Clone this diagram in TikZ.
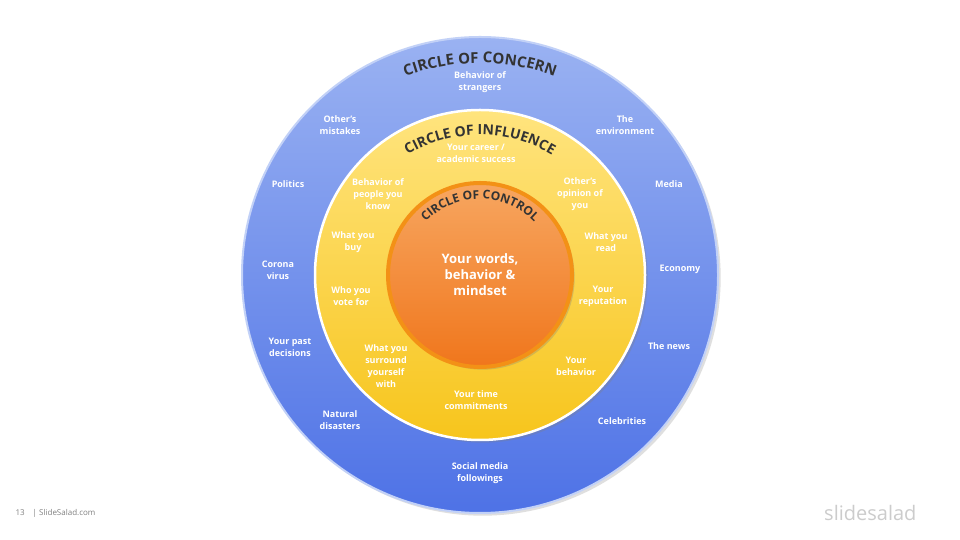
\documentclass[tikz,border=0pt]{standalone}
\usepackage{fontspec}
\setmainfont{Open Sans}
\usetikzlibrary{decorations.text,shadows}
\definecolor{bluedark}{HTML}{4E72E6}
\definecolor{bluelight}{HTML}{9AB2F2}
\definecolor{yel1}{HTML}{FFE47E}
\definecolor{yel2}{HTML}{F7C51C}
\definecolor{or1}{HTML}{F7A660}
\definecolor{or2}{HTML}{F0761C}
\definecolor{titlec}{HTML}{333333}
\tikzset{lbl/.style={text=white,align=center,font=\bfseries\fontsize{9}{12}\selectfont}}
\begin{document}
\begin{tikzpicture}[x=1pt,y=1pt]
\useasboundingbox[fill=white] (0,0) rectangle (960,540);
\coordinate (c) at (480,265);
\shade[top color=bluelight,bottom color=bluedark,draw=bluelight!60!white,line width=2pt,drop shadow={opacity=0.25}] (c) circle (238);
\shade[top color=yel1,bottom color=yel2,draw=white,line width=2.5pt,drop shadow={opacity=0.3}] (c) circle (165);
\shade[top color=or1,bottom color=or2,draw=or2!80!yellow,line width=4pt,drop shadow={opacity=0.3}] (c) circle (92);
\path[decorate,decoration={text along path,text align=center,text={|\bfseries\fontsize{15}{15}\selectfont\color{titlec}|CIRCLE OF CONCERN}}] (c) ++(130:212) arc (130:50:212);
\path[decorate,decoration={text along path,text align=center,text={|\bfseries\fontsize{14}{14}\selectfont\color{titlec}|CIRCLE OF INFLUENCE}}] (c) ++(150:140) arc (150:30:140);
\path[decorate,decoration={text along path,text align=center,text={|\bfseries\fontsize{12}{12}\selectfont\color{titlec}|CIRCLE OF CONTROL}}] (c) ++(165:76) arc (165:15:76);
\node[lbl] (a1) at (480,458) {Behavior of\\strangers};
\node[lbl] (a2) at (340,415) {Other's\\mistakes};
\node[lbl] (a3) at (625,415) {The\\environment};
\node[lbl] (a4) at (288,356) {Politics};
\node[lbl] (a5) at (669,356) {Media};
\node[lbl] (a6) at (278,270) {Corona\\virus};
\node[lbl] (a7) at (680,271) {Economy};
\node[lbl] (a8) at (290,193) {Your past\\decisions};
\node[lbl] (a9) at (669,194) {The news};
\node[lbl] (a10) at (340,120) {Natural\\disasters};
\node[lbl] (a11) at (622,119) {Celebrities};
\node[lbl] (a12) at (480,67) {Social media\\followings};
\node[lbl] (b1) at (476,387) {Your career /\\academic success};
\node[lbl] (b2) at (378,346) {Behavior of\\people you\\know};
\node[lbl] (b3) at (580,346) {Other's\\opinion of\\you};
\node[lbl] (b4) at (353,298) {What you\\buy};
\node[lbl] (b5) at (606,298) {What you\\read};
\node[lbl] (b6) at (351,244) {Who you\\vote for};
\node[lbl] (b7) at (603,244) {Your\\reputation};
\node[lbl] (b8) at (386,174) {What you\\surround\\yourself\\with};
\node[lbl] (b9) at (576,174) {Your\\behavior};
\node[lbl] (b10) at (476,140) {Your time\\commitments};
\node[text=white,align=center,font=\bfseries\fontsize{13}{16}\selectfont] (m) at (480,265) {Your words,\\behavior \&\\mindset};
\node[anchor=west,text=gray,font=\fontsize{8}{10}\selectfont] (f1) at (12,27) {13\quad | SlideSalad.com};
\node[anchor=east,text=black!20,font=\fontsize{20}{22}\selectfont] (f2) at (920,27) {slidesalad};
\end{tikzpicture}
\end{document}
